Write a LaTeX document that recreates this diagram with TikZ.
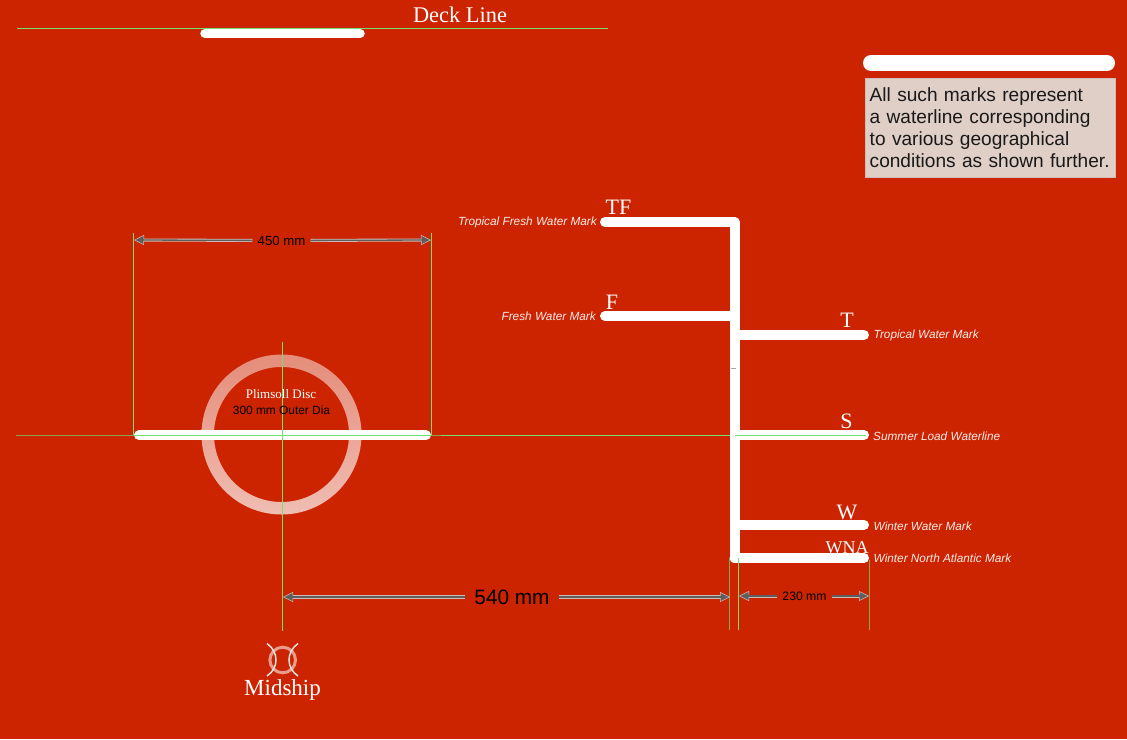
\documentclass[tikz,border=0pt]{standalone}
\usepackage{fontspec}
\setmainfont{Liberation Serif}
\setsansfont{Liberation Sans}
\usetikzlibrary{arrows.meta, positioning}
\definecolor{hullred}{HTML}{CC2400}
\definecolor{guidegreen}{HTML}{70E070}
\definecolor{guideolive}{HTML}{86A850}
\definecolor{dimcore}{HTML}{5E5E5E}
\definecolor{dimedge}{HTML}{D0BCB6}
\definecolor{notefill}{HTML}{E0CFC6}
\tikzset{
	% painted marks
	markbar/.style={line width=10pt, white, line cap=round},
	% thin construction lines
	guide/.style={line width=1pt, guidegreen},
	oldguide/.style={line width=1pt, guideolive},
	% dimension arrows: outer width, core width
	dimarrow/.style 2 args={
		line width=#1,
		dimedge,
		-{Triangle[length=10pt, width=10pt, fill=dimcore, line width=0.5pt]},
		postaction={draw=dimcore, line width=#2, -, shorten >=7pt}
	},
	dimtext/.style={font=\sffamily\fontsize{#1}{#1}\selectfont, black, inner sep=5pt},
	% texts
	marktag/.style={font=\fontsize{#1}{#1}\selectfont, white, inner sep=0pt},
	markname/.style={font=\sffamily\itshape\fontsize{11.8}{14}\selectfont, white!92!hullred, inner sep=0pt}
}
\begin{document}
\begin{tikzpicture}[x=1pt, y=-1pt]
	\useasboundingbox (0,0) rectangle (1127,739);
	\fill[hullred] (0,0) rectangle (1127,739);

	% deck line
	\coordinate (deckL) at (17,28.5);
	\coordinate (deckR) at (608,28.5);
	\draw[markbar, line width=9.5pt] (205,33.5)--(360,33.5);
	\draw[guide] (deckL)--(deckR);
	\node[marktag=22.4] (decktext) at (460,15) {Deck Line};

	% note
	\draw[white, line width=16pt, line cap=round] (871,63)--(1107,63);
	\node[draw=dimedge, fill=notefill, anchor=north west, minimum height=99pt,
		inner xsep=5pt, inner ysep=0pt, text width=240.3pt, align=left,
		font=\sffamily\fontsize{19.1}{22}\selectfont, text=black!90]
		(note) at (864.5,78) {All such marks represent\\a waterline corresponding\\to various geographical\\conditions as shown further.};

	% disc
	\shade[top color=white!48!hullred, bottom color=white!70!hullred, even odd rule]
		(281.5,434.5) circle (80) (281.5,434.5) circle (67.5);
	\draw[oldguide] (16,435.5)--(134,435.5);
	\draw[oldguide] (431,435.5)--(441,435.5);
	\draw[guide] (441,435.5)--(866,435.5);
	\draw[markbar, shorten <=5pt, shorten >=5pt] (134,435.3)--(431,435.3);
	\draw[markbar] (735,435)--(864,435);
	\draw[guide] (134,435.5)--(431,435.5);
	\draw[guide] (735,435.5)--(866,435.5);
	\draw[guide] (282.5,342)--(282.5,631);
	\node[marktag=13] (disctext) at (281,394.5) {Plimsoll Disc};
	\node[font=\sffamily\fontsize{11.9}{14}\selectfont, black, inner sep=0pt] (discdia) at (281.5,410) {300 mm Outer Dia};

	% 450
	\coordinate (widthL) at (134,240);
	\coordinate (widthR) at (431,240);
	\draw[guide] (133.5,233)--(133.5,435);
	\draw[guide] (431.5,233)--(431.5,435);
	\node[dimtext=13.2] (widthtext) at (281.5,240.5) {450 mm};
	\draw[dimarrow={3pt}{1.3pt}] (widthtext)--(widthL);
	\draw[dimarrow={3pt}{1.3pt}] (widthtext)--(widthR);

	% marks
	\draw[markbar, line join=round] (605,222)--(734.5,222)--(734.5,558);
	\draw[markbar] (605,316)--(734,316);
	\draw[markbar] (735,335)--(864,335);
	\draw[markbar] (735,525)--(864,525);
	\draw[markbar] (734.5,558)--(864,558);
	\draw[guide] (735,435.5)--(866,435.5);
	\draw[gray!70, line width=0.7pt] (731,368.3)--(736,368.3);

	\node[marktag=22] (tagTF) at (618.5,207) {TF};
	\node[marktag=22] (tagF) at (612,302) {F};
	\node[marktag=22] (tagT) at (847,320.5) {T};
	\node[marktag=22] (tagS) at (846.5,421) {S};
	\node[marktag=22] (tagW) at (847,512.5) {W};
	\node[marktag=18] (tagWNA) at (847,547.5) {WNA};

	\node[markname, anchor=east] (nameTF) at (597,222) {Tropical Fresh Water Mark};
	\node[markname, anchor=east] (nameF) at (596,316) {Fresh Water Mark};
	\node[markname, anchor=west] (nameT) at (873.5,335.5) {Tropical Water Mark};
	\node[markname, anchor=west] (nameS) at (873,436) {Summer Load Waterline};
	\node[markname, anchor=west] (nameW) at (873.5,526) {Winter Water Mark};
	\node[markname, anchor=west] (nameWNA) at (873.5,558) {Winter North Atlantic Mark};

	% 540 and 230
	\draw[oldguide] (729.5,558)--(729.5,630);
	\draw[guide] (738.5,558)--(738.5,630);
	\draw[oldguide] (869.5,560)--(869.5,630);

	\coordinate (runL) at (283,597);
	\coordinate (runR) at (730,597);
	\node[dimtext=20.8, inner sep=9pt] (runtext) at (512,597) {540 mm};
	\draw[dimarrow={4pt}{2.4pt}] (runtext)--(runL);
	\draw[dimarrow={4pt}{2.4pt}] (runtext)--(runR);

	\coordinate (barL) at (739,596);
	\coordinate (barR) at (869,596);
	\node[dimtext=12.2] (bartext) at (804.5,596) {230 mm};
	\draw[dimarrow={3pt}{1.3pt}] (bartext)--(barL);
	\draw[dimarrow={3pt}{1.3pt}] (bartext)--(barR);

	% midship
	\draw[white!55!hullred, line width=3pt] (282.7,660) circle (12.8);
	\draw[white!78!gray, line width=1.5pt] (267,643.5) .. controls (279,652) and (279,668) .. (267,676);
	\draw[white!78!gray, line width=1.5pt] (298,643.5) .. controls (286,652) and (286,668) .. (298,676);
	\node[marktag=23] (midtext) at (282.5,689.5) {Midship};
\end{tikzpicture}
\end{document}
